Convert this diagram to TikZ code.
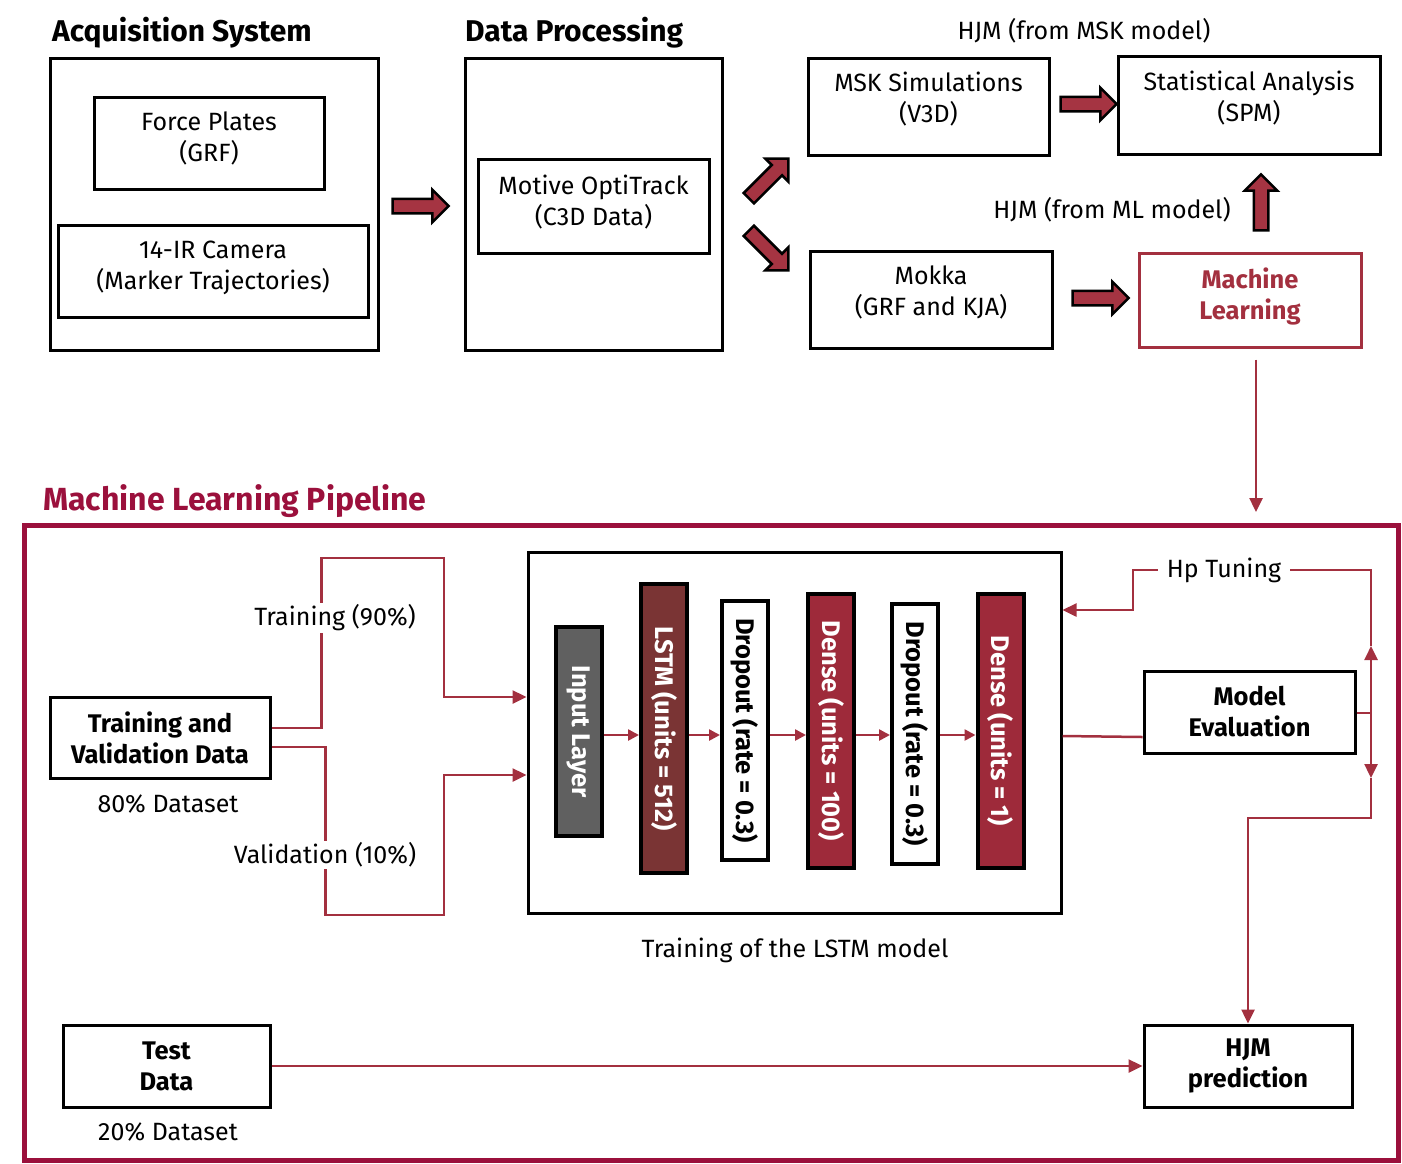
\documentclass[tikz,border=0pt]{standalone}
\usepackage{fontspec}
\setmainfont{Fira Sans}
\usepackage{graphicx}
\usepackage{tikz}
\usetikzlibrary{arrows.meta, positioning, shapes.arrows}

\definecolor{mlred}{RGB}{155,16,60}
\definecolor{linkred}{RGB}{163,48,63}
\definecolor{arrowred}{RGB}{165,52,66}
\definecolor{lstmbrown}{RGB}{122,52,52}
\definecolor{densered}{RGB}{158,42,58}
\definecolor{inputgray}{RGB}{96,96,96}

\begin{document}
\begin{tikzpicture}[x=1pt, y=-1pt,
    box/.style={draw, rectangle, line width=3pt, align=center, inner sep=0pt,
                font=\fontsize{25}{31}\selectfont},
    upper/.style={text depth=18pt},
    lower/.style={text depth=12pt},
    bbox/.style={box, font=\fontsize{25.5}{31}\selectfont\bfseries},
    layer/.style={draw, rectangle, line width=4pt, minimum width=46pt, inner sep=0pt,
                  font=\fontsize{25.5}{28}\selectfont\bfseries},
    heading/.style={anchor=west, inner sep=0pt, font=\fontsize{30}{34}\selectfont\bfseries},
    txt/.style={inner sep=2pt, font=\fontsize{25}{30}\selectfont},
    cut/.style={txt, fill=white, inner xsep=9pt},
    bigarr/.style={single arrow, draw, line width=2.5pt, fill=arrowred, inner sep=6pt,
                   single arrow head extend=9pt, minimum height=56pt},
    link/.style={linkred, line width=2.5pt},
    linkarr/.style={link, -{Triangle[length=14pt, width=13pt]}},
    smallarr/.style={link, -{Triangle[length=11pt, width=11pt]}}
]
\useasboundingbox (0,0) rectangle (1402,1163);

% Acquisition system
\node[heading] (acqtitle) at (52,33) {Acquisition System};
\node[box, minimum width=328pt, minimum height=292pt] (acq) at (214,204) {};
\node[box, lower, minimum width=230pt, minimum height=92pt] (grf) at (209,143) {Force Plates\\(GRF)};
\node[box, lower, minimum width=310pt, minimum height=92pt] (cam) at (213,271) {14-IR Camera\\(Marker Trajectories)};

% Data processing
\node[heading] (dptitle) at (465,33) {Data Processing};
\node[box, minimum width=257pt, minimum height=292pt] (dp)  at (593.5,204) {};
\node[box, lower, minimum width=231pt, minimum height=94pt] (c3d) at (593.5,206) {Motive OptiTrack\\(C3D Data)};

% Simulation and ML
\node[txt] (hjmmsk) at (1084,31) {HJM (from MSK model)};
\node[box, upper, minimum width=241pt, minimum height=97pt] (msk)   at (928.5,106.5) {MSK Simulations\\(V3D)};
\node[box, upper, minimum width=262pt, minimum height=98pt] (spm)   at (1249,105)    {Statistical Analysis\\(SPM)};
\node[box, upper, minimum width=242pt, minimum height=97pt] (mokka) at (931,299.5)   {Mokka\\(GRF and KJA)};
\node[bbox, lower, draw=linkred, text=linkred, minimum width=222pt, minimum height=94pt] (ml) at (1250,300) {Machine\\Learning};
\node[txt] (hjmml) at (1112,210) {HJM (from ML model)};

% Block arrows
\node[bigarr]            (a1) at (417,206)  {};
\node[bigarr, rotate=45] (a2) at (766,181)  {};
\node[bigarr, rotate=-45](a3) at (766,248)  {};
\node[bigarr]            (a4) at (1085,104) {};
\node[bigarr]            (a5) at (1097,298) {};
\node[bigarr, rotate=90] (a6) at (1261,206) {};

\coordinate (pipein) at (1256,512);
\draw[linkarr] ([xshift=6pt, yshift=-11pt]ml.south) -- (pipein);

% Machine learning pipeline
\node[heading, text=mlred, font=\fontsize{32}{36}\selectfont\bfseries] (pltitle) at (43,501) {Machine Learning Pipeline};
\draw[mlred, line width=5pt] (24,525) rectangle (1398,1160);

\node[box, minimum width=533pt, minimum height=361pt] (net) at (794.5,732.5) {};
\node[txt] (nettxt) at (795,950) {Training of the LSTM model};

% Layers
\node[layer, fill=inputgray, text=white, minimum height=209pt] (input) at (578.5,731.5) {\rotatebox{-90}{Input Layer}};
\node[layer, fill=lstmbrown, text=white, minimum height=289pt] (lstm)  at (664,728.5)   {\rotatebox{-90}{LSTM (units = 512)}};
\node[layer, minimum height=259pt]                             (drop1) at (745,730.5)   {\rotatebox{-90}{Dropout (rate = 0.3)}};
\node[layer, fill=densered, text=white, minimum height=274pt]  (dense1) at (831,731)    {\rotatebox{-90}{Dense (units = 100)}};
\node[layer, minimum height=260pt]                             (drop2) at (915,734)     {\rotatebox{-90}{Dropout (rate = 0.3)}};
\node[layer, fill=densered, text=white, minimum height=274pt]  (dense2) at (1000.5,731) {\rotatebox{-90}{Dense (units = 1)}};

\draw[smallarr] (input.east |- 0,735)  -- (lstm.west |- 0,735);
\draw[smallarr] (lstm.east |- 0,735)   -- (drop1.west |- 0,735);
\draw[smallarr] (drop1.east |- 0,735)  -- (dense1.west |- 0,735);
\draw[smallarr] (dense1.east |- 0,735) -- (drop2.west |- 0,735);
\draw[smallarr] (drop2.east |- 0,735)  -- (dense2.west |- 0,735);

% Data split
\node[bbox, minimum width=220pt, minimum height=81pt] (tvd) at (160,737.5) {Training and\\Validation Data};
\node[txt] (tvdpct) at (168,804) {80\% Dataset};
\node[bbox, minimum width=207pt, minimum height=82pt] (test) at (166.5,1066) {Test\\Data};
\node[txt] (testpct) at (168,1132) {20\% Dataset};

\draw[linkarr] ([yshift=9.5pt]tvd.east) -- ++(50,0) |- (444,558) |- ([yshift=35.5pt]net.west);
\draw[linkarr] ([yshift=-9.5pt]tvd.east) -- ++(54,0) |- (444,915) |- ([yshift=-42.5pt]net.west);
\node[cut] (trainlbl) at (335,618) {Training (90\%)};
\node[cut] (vallbl)   at (325,855) {Validation (10\%)};

% Evaluation and prediction
\node[bbox, minimum width=211pt, minimum height=82pt] (eval) at (1249.5,712) {Model\\Evaluation};
\node[bbox, minimum width=208pt, minimum height=82pt] (hjm)  at (1248,1066)  {HJM\\prediction};

\coordinate (split) at (1371,713);
\coordinate (tuneup) at (1371,646);
\coordinate (tunedn) at (1371,778);

\draw[link] ([yshift=-3.5pt]net.east) -- ([yshift=-25pt]eval.west);
\draw[link] (eval.east |- split) -- (split);
\draw[linkarr] (split) -- (tuneup);
\draw[linkarr] (split) -- (tunedn);
\draw[linkarr] (tuneup) -- (1371,570) -| (1133,610) -- (net.east |- 0,610);
\node[cut] (hptune) at (1224,570) {Hp Tuning};
\draw[linkarr] (tunedn) -- (1371,818) -| (hjm.north);
\draw[linkarr] (test.east) -- (hjm.west);

\end{tikzpicture}
\end{document}
